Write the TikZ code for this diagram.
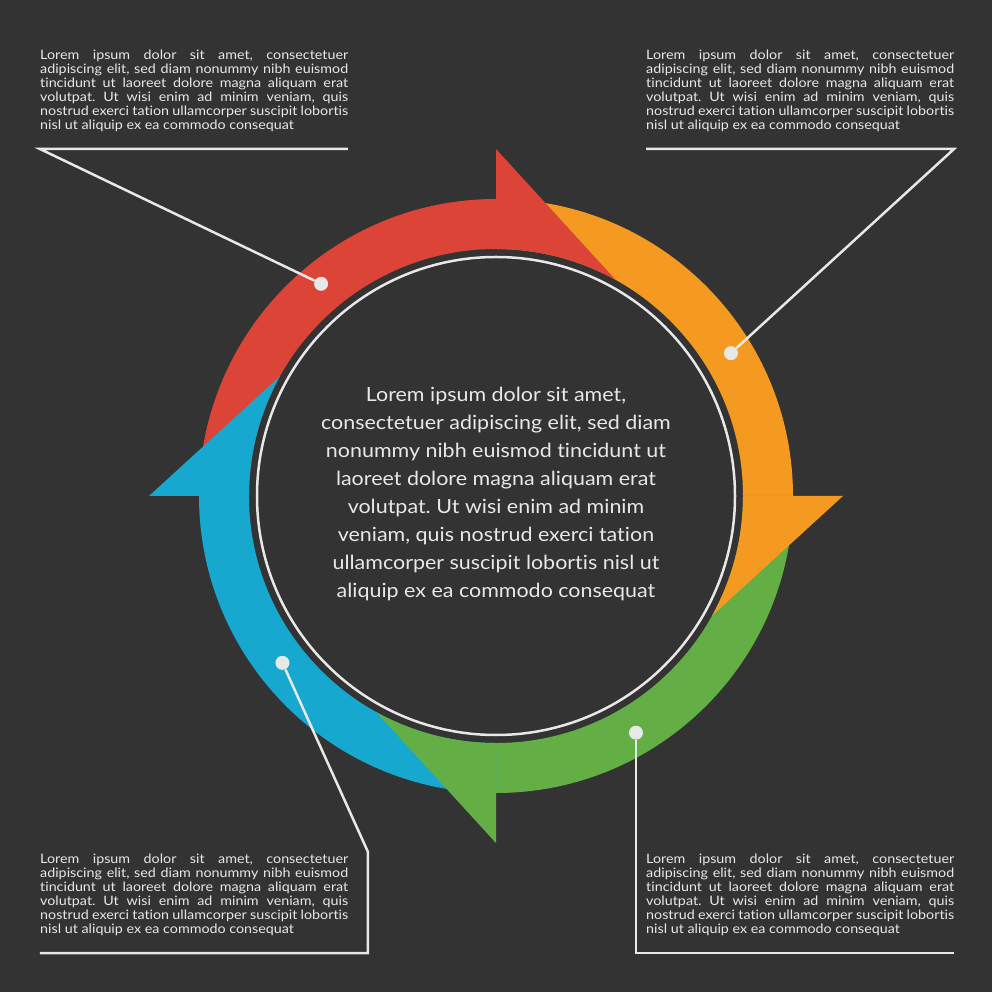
\documentclass[tikz,border=0pt]{standalone}
\usepackage{fontspec}
\setmainfont{Lato}[FakeStretch=1.1, Ligatures=NoCommon]
\frenchspacing
\definecolor{sumi}{HTML}{333333}
\definecolor{ichigo}{HTML}{DB4437}
\definecolor{mikan}{HTML}{F49A20}
\definecolor{wakaba}{HTML}{63AF45}
\definecolor{sora}{HTML}{17A8CF}
\definecolor{shiro}{HTML}{E8E8E8}

\newcommand{\loremcorner}{Lorem ipsum dolor sit amet, consectetuer\linebreak
adipiscing elit, sed diam nonummy nibh euismod\linebreak
tincidunt ut laoreet dolore magna aliquam erat\linebreak
volutpat. Ut wisi enim ad minim veniam, quis\linebreak
nostrud exerci tation ullamcorper suscipit lobortis\linebreak
nisl ut aliquip ex ea commodo consequat}

\tikzset{
    corner text/.style={anchor=north west, inner sep=0pt, text width=308pt, align=justify,
        text=shiro, font=\fontsize{13}{14}\selectfont},
    callout/.style={draw=shiro, line width=2.5},
    pin dot/.style={circle, fill=shiro, inner sep=0pt, minimum size=14pt}
}

\begin{document}
\begin{tikzpicture}[x=1pt, y=1pt]
    \fill[sumi] (-496,-496) rectangle (496,496);
    \useasboundingbox (-496,-496) rectangle (496,496);

    % ring bodies
    \foreach \a/\b/\c in {180/90/ichigo, 90/0/mikan, 0/-90/wakaba, -90/-180/sora}
        \fill[\c] (\a:247) -- (\a:297) arc[start angle=\a, end angle=\b, radius=297]
            -- (\b:247) arc[start angle=\b, end angle=\a, radius=247] -- cycle;

    % arrow heads
    \foreach \b/\t/\c in {90/61/ichigo, 0/-29/mikan, -90/-119/wakaba, 180/151/sora}
        \fill[\c] (\b:247) -- (\b:347) -- (\t:247) arc[start angle=\t, end angle=\b, radius=247] -- cycle;

    \draw[shiro, line width=2.5] (0,0) circle[radius=239];

    \node[align=center, text=shiro, font=\fontsize{19.5}{28}\selectfont] (hub) at (0,2)
        {Lorem ipsum dolor sit amet,\\ consectetuer adipiscing elit, sed diam\\
         nonummy nibh euismod tincidunt ut\\ laoreet dolore magna aliquam erat\\
         volutpat. Ut wisi enim ad minim\\ veniam, quis nostrud exerci tation\\
         ullamcorper suscipit lobortis nisl ut\\ aliquip ex ea commodo consequat};

    % dots on the ring
    \node[pin dot] (dotnw) at (129.5:275) {};
    \node[pin dot] (dotne) at (31.3:275) {};
    \node[pin dot] (dotsw) at (218:271) {};
    \node[pin dot] (dotse) at (-59.4:275) {};

    % corner texts
    \node[corner text] (textnw) at (-456,446) {\loremcorner};
    \node[corner text] (textne) at (150,446) {\loremcorner};
    \node[corner text] (textsw) at (-456,-358) {\loremcorner};
    \node[corner text] (textse) at (150,-358) {\loremcorner};

    % callout lines
    \coordinate (nwa) at (-148,347);
    \coordinate (nwb) at (-456,347);
    \coordinate (nea) at (150,347);
    \coordinate (neb) at (458,347);
    \coordinate (swa) at (-128,-356);
    \coordinate (swb) at (-128,-457);
    \coordinate (swc) at (-456,-457);
    \coordinate (sea) at (dotse |- 0,-457);
    \coordinate (seb) at (458,-457);

    \draw[callout] (nwa) -- (nwb) -- (dotnw);
    \draw[callout] (nea) -- (neb) -- (dotne);
    \draw[callout] (dotsw) -- (swa) -- (swb) -- (swc);
    \draw[callout] (dotse) -- (sea) -- (seb);
\end{tikzpicture}
\end{document}
